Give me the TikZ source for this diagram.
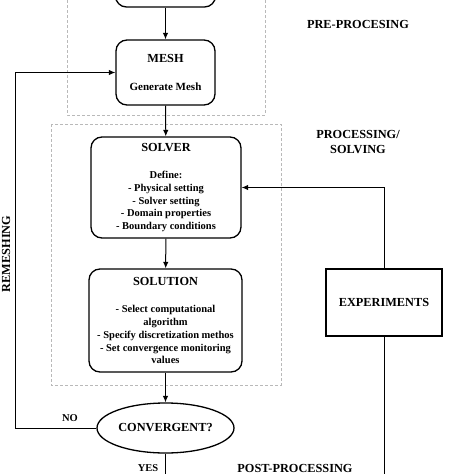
\documentclass[tikz,border=0pt]{standalone}
\usepackage{fontspec}
\setmainfont{Liberation Serif}
\usetikzlibrary{shapes.geometric, arrows.meta}
\tikzstyle{block}=[draw, line width=1.3pt, rounded corners=11pt, align=center, inner sep=0pt, font=\bfseries\fontsize{10.5}{12.7}\selectfont]
\tikzstyle{plainbox}=[draw, line width=1.3pt, align=center, inner sep=0pt, font=\bfseries\fontsize{12.3}{14}\selectfont]
\tikzstyle{decision}=[draw, ellipse, line width=1.3pt, inner sep=0pt, font=\bfseries\fontsize{12.3}{14}\selectfont]
\tikzstyle{stage}=[align=center, font=\bfseries\fontsize{12.3}{14.5}\selectfont]
\tikzstyle{answer}=[font=\bfseries\fontsize{10.5}{12}\selectfont]
\tikzstyle{group}=[draw=gray!55, line width=0.6pt, dash pattern=on 3pt off 2pt]
\tikzstyle{arrow}=[line width=1pt, -{Latex[length=6.5pt, width=5.5pt]}]
\tikzstyle{link}=[line width=1pt]
\newcommand{\blocktitle}[1]{{\fontsize{12.3}{14}\selectfont #1}}

\begin{document}
\begin{tikzpicture}[x=1pt, y=-1pt]
\useasboundingbox (0,0) rectangle (474,474);
\clip (0,0) rectangle (474,474);
%groups
\draw[group] (67,-20) rectangle (265,115);
\draw[group] (51,124) rectangle (281,385);
%stage names
\node[stage] (pre) at (358,24) {PRE-PROCESING};
\node[stage] (proc) at (358,142) {PROCESSING/\\SOLVING};
\node[stage] (post) at (295,468) {POST-PROCESSING};
\node[stage, rotate=90] (remesh) at (6,254) {REMESHING};
%blocks
\node[block, minimum width=100pt, minimum height=40pt] (top) at (165.5,-13) {};
\node[block, minimum width=99pt, minimum height=65pt] (mesh) at (165.5,72.5)
	{\blocktitle{MESH}\\[15pt]{\fontsize{11}{12.7}\selectfont Generate Mesh}};
\node[block, minimum width=150pt, minimum height=101pt] (solver) at (166,187.5)
	{\blocktitle{SOLVER}\\[15pt]Define:\\- Physical setting\\- Solver setting\\- Domain properties\\- Boundary conditions};
\node[block, minimum width=153pt, minimum height=103pt] (solution) at (165.5,320.5)
	{\blocktitle{SOLUTION}\\[15pt]- Select computational\\algorithm\\- Specify discretization methos\\- Set convergence monitoring\\values};
\node[plainbox, minimum width=116pt, minimum height=67pt] (exp) at (384,302.5) {EXPERIMENTS};
\node[decision, minimum width=137pt, minimum height=50pt] (conv) at (165.5,428) {CONVERGENT?};
%answers
\node[answer] (no) at (70,418) {NO};
\node[answer] (yes) at (148,468) {YES};
%helpers
\coordinate (left) at (15,0);
\coordinate (bottom) at (0,480);
%connectors
\draw[arrow] (top) -- (mesh);
\draw[arrow] (mesh) -- (solver);
\draw[arrow] (solver) -- (solution);
\draw[arrow] (solution) -- (conv);
\draw[arrow] (conv.west) -- (conv.west -| left) |- (mesh.west);
\draw[arrow] (exp.north) |- (solver.east);
\draw[link] (exp.south) -- (exp.south |- bottom);
\draw[link] (conv.south) -- (conv.south |- bottom);
\end{tikzpicture}
\end{document}
